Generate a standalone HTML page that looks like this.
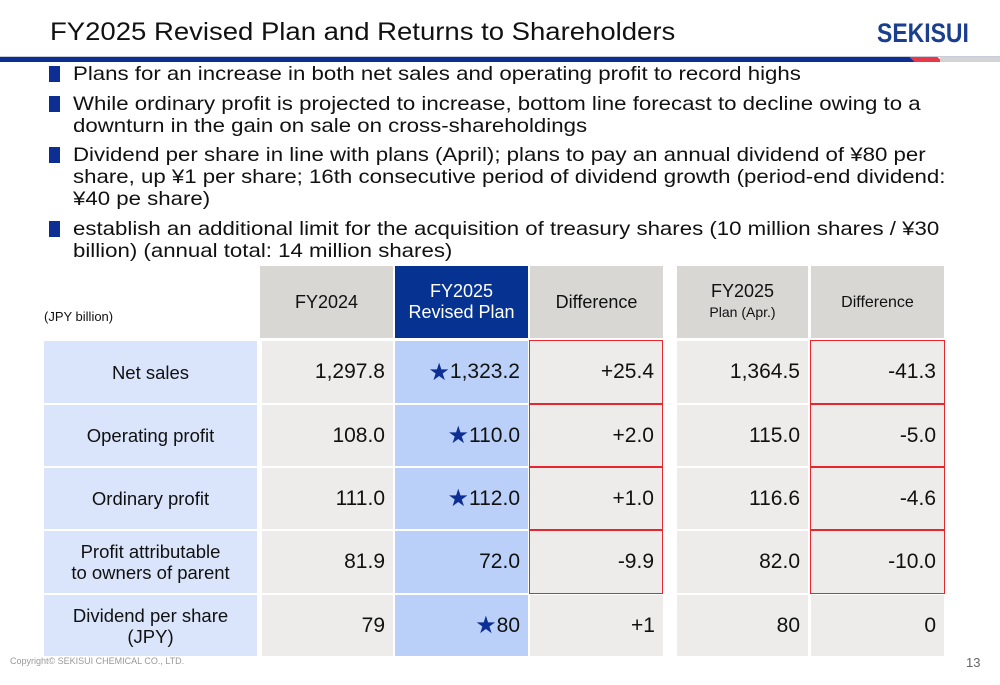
<!DOCTYPE html>
<html><head><meta charset="utf-8"><style>
*{margin:0;padding:0;box-sizing:border-box}
body{width:1000px;height:685px;background:#fff;position:relative;overflow:hidden;font-family:"Liberation Sans",Arial,sans-serif;color:#111}
.a{position:absolute}
.title{left:50px;top:18px;font-size:25px;color:#111;transform:scaleX(1.1);transform-origin:left;white-space:nowrap}
.logo{left:877px;top:18px;font-size:27px;font-weight:bold;color:#1a3f8f;transform:scaleX(0.85);transform-origin:left}
.b{left:49px;width:11px;height:16px;background:#0d2f94}
.t{left:73px;font-size:19.5px;line-height:22px;color:#111;transform:scaleX(1.14);transform-origin:left;white-space:nowrap}
.c{position:absolute;display:flex;align-items:center;font-size:21px}
.lab{background:#dae5fb;justify-content:center;text-align:center;font-size:18.5px;line-height:21px}
.g{background:#edecea;justify-content:flex-end;padding-right:8px}
.bl{background:#bbd0f8;justify-content:flex-end;padding-right:8px}
.rd{border:1.5px solid #e8262e}
.h{background:#d8d7d4;justify-content:center;text-align:center;font-size:18px;line-height:21px}
.st{color:#0d2f94;font-size:24px}
</style></head><body>
<div class="a title">FY2025 Revised Plan and Returns to Shareholders</div>
<div class="a logo">S<span style="color:#1a3f8f">E</span>KISUI</div>
<div class="a" style="left:0;top:56px;width:1000px;height:1px;background:#c9cdd8"></div>
<div class="a" style="left:0;top:57px;width:918px;height:5px;background:#0d2f94"></div>
<div class="a" style="left:912px;top:57px;width:28px;height:5px;background:#e8364a;transform:skewX(45deg)"></div>
<div class="a" style="left:940px;top:57px;width:60px;height:5px;background:#d4d4d4"></div>

<div class="a b" style="top:66px"></div>
<div class="a t" style="top:63px">Plans for an increase in both net sales and operating profit to record highs</div>
<div class="a b" style="top:96px"></div>
<div class="a t" style="top:93px">While ordinary profit is projected to increase, bottom line forecast to decline owing to a<br>downturn in the gain on sale on cross-shareholdings</div>
<div class="a b" style="top:147px"></div>
<div class="a t" style="top:144px">Dividend per share in line with plans (April); plans to pay an annual dividend of ¥80 per<br>share, up ¥1 per share; 16th consecutive period of dividend growth (period-end dividend:<br>¥40 pe share)</div>
<div class="a b" style="top:221px"></div>
<div class="a t" style="top:218px">establish an additional limit for the acquisition of treasury shares (10 million shares / ¥30<br>billion) (annual total: 14 million shares)</div>

<div class="a" style="left:44px;top:309px;font-size:13px">(JPY billion)</div>
<div class="c h" style="left:260px;top:266px;width:133px;height:72px">FY2024</div>
<div class="c h" style="left:395px;top:266px;width:133px;height:72px;background:#063392;color:#fff">FY2025<br>Revised Plan</div>
<div class="c h" style="left:530px;top:266px;width:133px;height:72px">Difference</div>
<div class="c h" style="left:677px;top:266px;width:131px;height:72px;flex-direction:column">FY2025<span style="font-size:14px">Plan (Apr.)</span></div>
<div class="c h" style="left:811px;top:266px;width:133px;height:72px;font-size:16px">Difference</div>

<div class="c lab" style="left:44px;top:341px;width:213px;height:62px">Net sales</div>
<div class="c g" style="left:262px;top:341px;width:131px;height:62px">1,297.8</div>
<div class="c bl" style="left:395px;top:341px;width:133px;height:62px"><span class="st">★</span>1,323.2</div>
<div class="c g rd" style="left:529px;top:340px;width:134px;height:64px">+25.4</div>
<div class="c g" style="left:677px;top:341px;width:131px;height:62px">1,364.5</div>
<div class="c g rd" style="left:810px;top:340px;width:135px;height:64px">-41.3</div>

<div class="c lab" style="left:44px;top:405px;width:213px;height:61px">Operating profit</div>
<div class="c g" style="left:262px;top:405px;width:131px;height:61px">108.0</div>
<div class="c bl" style="left:395px;top:405px;width:133px;height:61px"><span class="st">★</span>110.0</div>
<div class="c g rd" style="left:529px;top:404px;width:134px;height:63px">+2.0</div>
<div class="c g" style="left:677px;top:405px;width:131px;height:61px">115.0</div>
<div class="c g rd" style="left:810px;top:404px;width:135px;height:63px">-5.0</div>

<div class="c lab" style="left:44px;top:468px;width:213px;height:61px">Ordinary profit</div>
<div class="c g" style="left:262px;top:468px;width:131px;height:61px">111.0</div>
<div class="c bl" style="left:395px;top:468px;width:133px;height:61px"><span class="st">★</span>112.0</div>
<div class="c g rd" style="left:529px;top:467px;width:134px;height:63px">+1.0</div>
<div class="c g" style="left:677px;top:468px;width:131px;height:61px">116.6</div>
<div class="c g rd" style="left:810px;top:467px;width:135px;height:63px">-4.6</div>

<div class="c lab" style="left:44px;top:531px;width:213px;height:62px">Profit attributable<br>to owners of parent</div>
<div class="c g" style="left:262px;top:531px;width:131px;height:62px">81.9</div>
<div class="c bl" style="left:395px;top:531px;width:133px;height:62px">72.0</div>
<div class="c g rd" style="left:529px;top:530px;width:134px;height:64px">-9.9</div>
<div class="c g" style="left:677px;top:531px;width:131px;height:62px">82.0</div>
<div class="c g rd" style="left:810px;top:530px;width:135px;height:64px">-10.0</div>

<div class="c lab" style="left:44px;top:595px;width:213px;height:61px">Dividend per share<br>(JPY)</div>
<div class="c g" style="left:262px;top:595px;width:131px;height:61px">79</div>
<div class="c bl" style="left:395px;top:595px;width:133px;height:61px"><span class="st">★</span>80</div>
<div class="c g" style="left:530px;top:595px;width:133px;height:61px">+1</div>
<div class="c g" style="left:677px;top:595px;width:131px;height:61px">80</div>
<div class="c g" style="left:811px;top:595px;width:133px;height:61px">0</div>

<div class="a" style="left:10px;top:656px;font-size:9px;color:#999">Copyright© SEKISUI CHEMICAL CO., LTD.</div>
<div class="a" style="left:966px;top:655px;font-size:13px;color:#666">13</div>
</body></html>
